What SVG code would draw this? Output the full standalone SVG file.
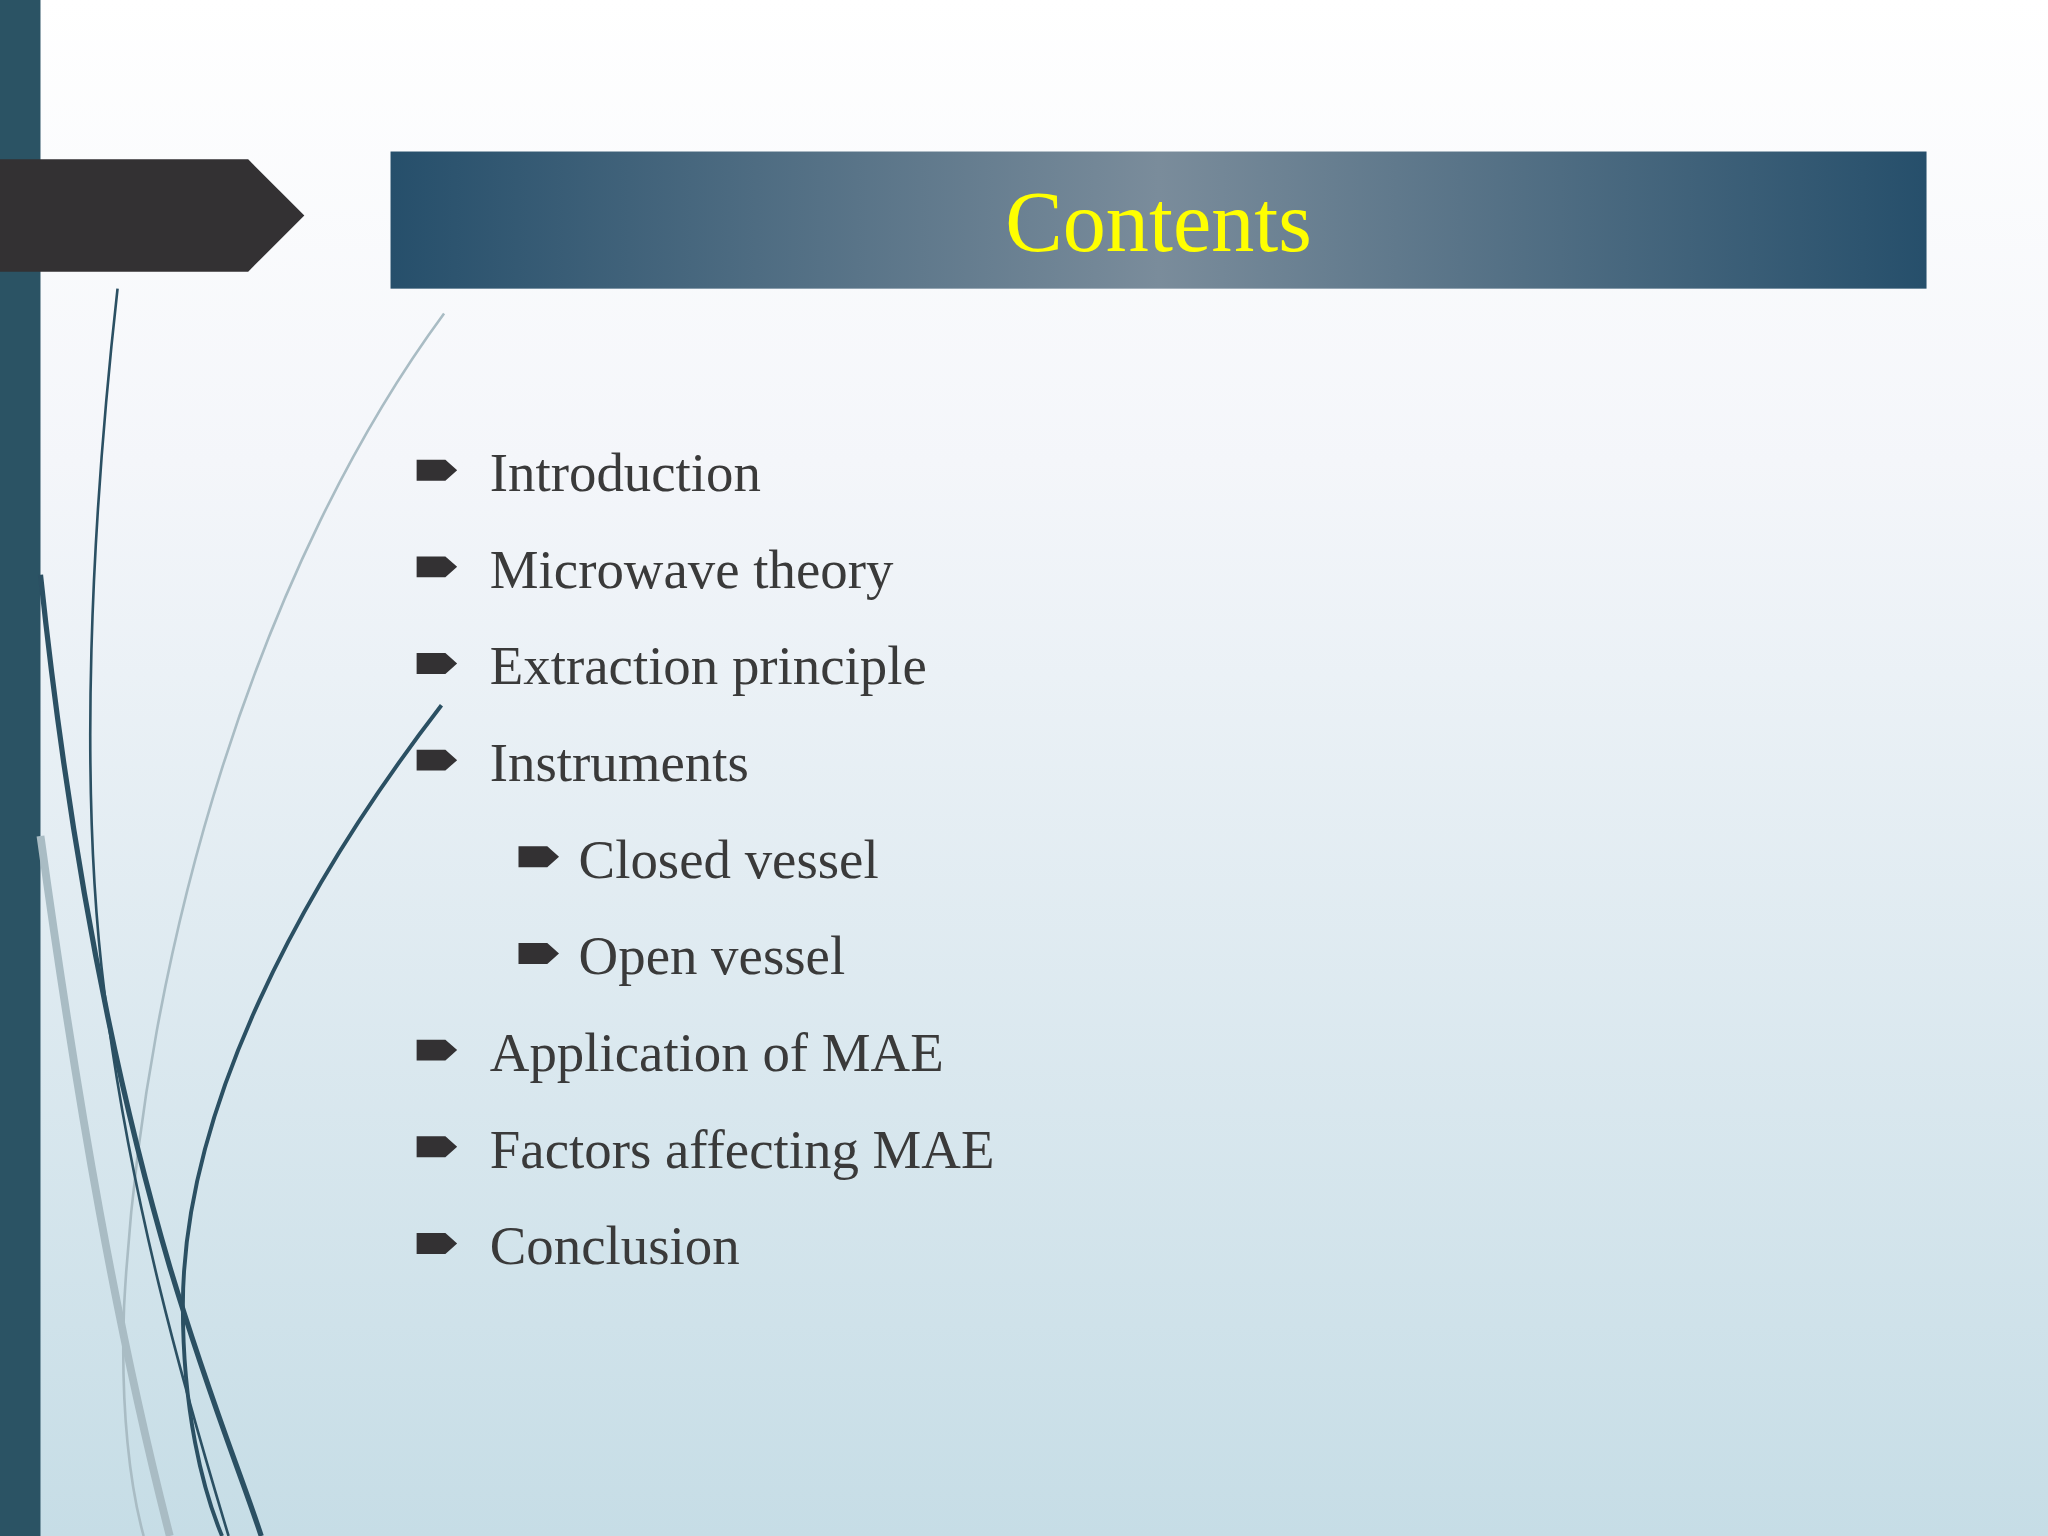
<svg xmlns="http://www.w3.org/2000/svg" width="2048" height="1536" viewBox="0 0 2048 1536">
<defs>
<linearGradient id="bg" x1="0" y1="0" x2="0" y2="1"><stop offset="0" stop-color="#ffffff"/><stop offset="0.3" stop-color="#f4f6fa"/><stop offset="1" stop-color="#c6dde6"/></linearGradient>
<linearGradient id="tb" x1="0" y1="0" x2="1" y2="0"><stop offset="0" stop-color="#264f6b"/><stop offset="0.5" stop-color="#7a8c9b"/><stop offset="1" stop-color="#264f6b"/></linearGradient>
<path id="bl" d="M0,-8 H22 L31,0 L22,8 H0 Z" fill="#333133"/>
<style>.t{font-family:"Liberation Serif",serif;font-size:42px;fill:#3a3a3a}.c{fill:none;stroke:#2b5063}.g{fill:none;stroke:#a9bcc4}</style>
</defs>
<rect width="2048" height="1536" fill="url(#bg)"/>
<g transform="scale(1.306122)">
<g id="decor">
<rect x="0" y="0" width="31" height="1176" fill="#2b5364"/>
<path class="g" stroke-width="6" d="M31,640 C60,850 90,1020 130,1176"/>
<path class="g" stroke-width="2" d="M340,240 C200,430 110,720 95,1000 C92,1080 100,1140 110,1176"/>
<path class="c" stroke-width="2" d="M90,221 C70,400 60,600 80,760 C100,920 140,1060 175,1176"/>
<path class="c" stroke-width="4" d="M31,440 C50,620 80,800 130,970 C160,1070 185,1130 200,1176"/>
<path class="c" stroke-width="3" d="M338,540 C230,680 140,850 140,1000 C140,1080 155,1140 170,1176"/>
<path d="M0,122 H190 L233,165 L190,208 H0 Z" fill="#333133"/>
</g>
<g id="title">
<rect x="299" y="116" width="1176" height="105" fill="url(#tb)"/>
<text x="887" y="192" text-anchor="middle" font-family="Liberation Serif,serif" font-size="66" fill="#ffff00">Contents</text>
</g>
<g id="list">
<use href="#bl" x="319" y="360"/><text class="t" x="375" y="376">Introduction</text>
<use href="#bl" x="319" y="434"/><text class="t" x="375" y="450">Microwave theory</text>
<use href="#bl" x="319" y="508"/><text class="t" x="375" y="524">Extraction principle</text>
<use href="#bl" x="319" y="582"/><text class="t" x="375" y="598">Instruments</text>
<use href="#bl" x="397" y="656"/><text class="t" x="443" y="672">Closed vessel</text>
<use href="#bl" x="397" y="730"/><text class="t" x="443" y="746">Open vessel</text>
<use href="#bl" x="319" y="804"/><text class="t" x="375" y="820">Application of MAE</text>
<use href="#bl" x="319" y="878"/><text class="t" x="375" y="894">Factors affecting MAE</text>
<use href="#bl" x="319" y="952"/><text class="t" x="375" y="968">Conclusion</text>
</g>
</g>
</svg>
